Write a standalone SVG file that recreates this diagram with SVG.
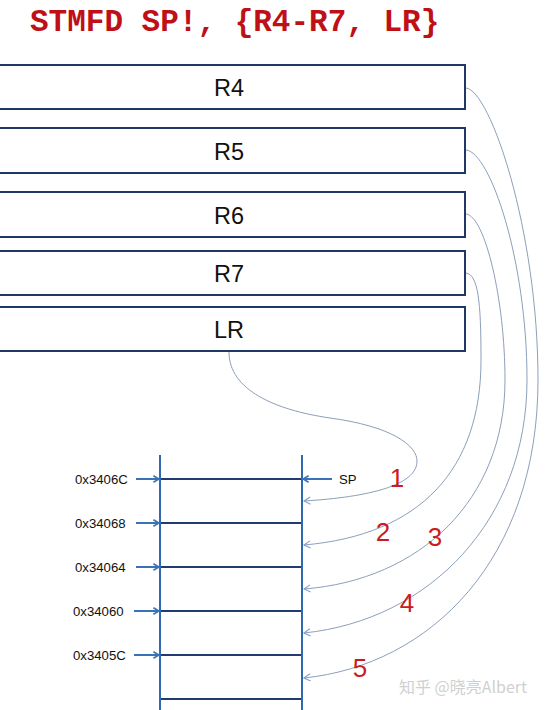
<svg xmlns="http://www.w3.org/2000/svg" width="545" height="710" viewBox="0 0 545 710">
<defs>
<style>
.box{fill:#fff;stroke:#1f3864;stroke-width:2}
.reg{font-family:"Liberation Sans",Arial,sans-serif;font-size:23.5px;fill:#111;text-anchor:middle}
.title{font-family:"Liberation Mono","Courier New",monospace;font-weight:bold;font-size:31px;fill:#bf1018}
.addr{font-family:"Liberation Sans",Arial,sans-serif;font-size:13.2px;fill:#111;dominant-baseline:central}
.num{font-family:"Liberation Sans",Arial,sans-serif;font-size:26px;fill:#cc1a22;text-anchor:middle}
.vline{stroke:#2f6ab0;stroke-width:2}
.hline{stroke:#1f3d70;stroke-width:2}
.ptr{stroke:#3a72b8;stroke-width:2;fill:none}
.conn{stroke:#8d9fb8;stroke-width:1;fill:none}
.wm{font-family:"Noto Sans CJK SC","Noto Sans",sans-serif;font-size:16px;fill:#d0d0d0}
</style>
<marker id="ah" viewBox="0 0 10 10" refX="9" refY="5" markerWidth="8" markerHeight="8" markerUnits="userSpaceOnUse" orient="auto">
<path d="M2,1 L9,5 L2,9" fill="none" stroke="#3a72b8" stroke-width="2"/>
</marker>
<marker id="ch" viewBox="0 0 10 10" refX="9" refY="5" markerWidth="9" markerHeight="9" markerUnits="userSpaceOnUse" orient="auto">
<path d="M2,1 L9,5 L2,9" fill="none" stroke="#7fa0cc" stroke-width="1.2"/>
</marker>
</defs>
<rect width="545" height="710" fill="#fff"/>
<text class="title" x="30" y="31">STMFD SP!, {R4-R7, LR}</text>

<g id="box-R4"><rect class="box" x="-5" y="65" width="470" height="44"/><text class="reg" x="229" y="96">R4</text></g>
<g id="box-R5"><rect class="box" x="-5" y="128" width="470" height="45"/><text class="reg" x="229" y="160">R5</text></g>
<g id="box-R6"><rect class="box" x="-5" y="192" width="470" height="45"/><text class="reg" x="229" y="224">R6</text></g>
<g id="box-R7"><rect class="box" x="-5" y="251" width="470" height="44"/><text class="reg" x="229" y="282">R7</text></g>
<g id="box-LR"><rect class="box" x="-5" y="307" width="470" height="44"/><text class="reg" x="229" y="338">LR</text></g>

<g id="stack">
<line class="hline" x1="160" y1="479" x2="302" y2="479"/>
<line class="hline" x1="160" y1="523" x2="302" y2="523"/>
<line class="hline" x1="160" y1="567" x2="302" y2="567"/>
<line class="hline" x1="160" y1="611" x2="302" y2="611"/>
<line class="hline" x1="160" y1="655" x2="302" y2="655"/>
<line class="hline" x1="160" y1="699" x2="302" y2="699"/>
<line class="vline" x1="160" y1="455" x2="160" y2="710"/>
<line class="vline" x1="302" y1="455" x2="302" y2="710"/>
</g>

<g id="addresses">
<text class="addr" x="75" y="479">0x3406C</text>
<text class="addr" x="75" y="523">0x34068</text>
<text class="addr" x="75" y="567">0x34064</text>
<text class="addr" x="73" y="611">0x34060</text>
<text class="addr" x="73" y="655">0x3405C</text>
<text class="addr" x="339" y="479">SP</text>
</g>

<g id="connectors">
<line class="ptr" x1="136" y1="479" x2="159" y2="479" marker-end="url(#ah)"/>
<line class="ptr" x1="136" y1="523" x2="159" y2="523" marker-end="url(#ah)"/>
<line class="ptr" x1="136" y1="567" x2="159" y2="567" marker-end="url(#ah)"/>
<line class="ptr" x1="134" y1="611" x2="159" y2="611" marker-end="url(#ah)"/>
<line class="ptr" x1="134" y1="655" x2="159" y2="655" marker-end="url(#ah)"/>
<line class="ptr" x1="332" y1="479" x2="303" y2="479" marker-end="url(#ah)"/>
<path class="conn" d="M229,352 C229,390 275,410 330,418 C390,426 418,445 417,462 C416,485 370,497 304,501" marker-end="url(#ch)"/>
<path class="conn" d="M466,273 C478,275 481,300 481,360 C481,470 420,535 304,545" marker-end="url(#ch)"/>
<path class="conn" d="M466,214 C485,216 505,300 505,380 C505,500 420,580 304,589" marker-end="url(#ch)"/>
<path class="conn" d="M466,150 C490,152 527,260 527,380 C527,520 430,620 304,633" marker-end="url(#ch)"/>
<path class="conn" d="M466,88 C490,90 538,230 538,380 C538,560 430,665 304,678" marker-end="url(#ch)"/>
</g>

<g id="labels">
<text class="num" x="397" y="487">1</text>
<text class="num" x="383" y="541">2</text>
<text class="num" x="435" y="546">3</text>
<text class="num" x="407" y="612">4</text>
<text class="num" x="360" y="677">5</text>
</g>
<text class="wm" x="399" y="693">知乎 @晓亮Albert</text>
</svg>
